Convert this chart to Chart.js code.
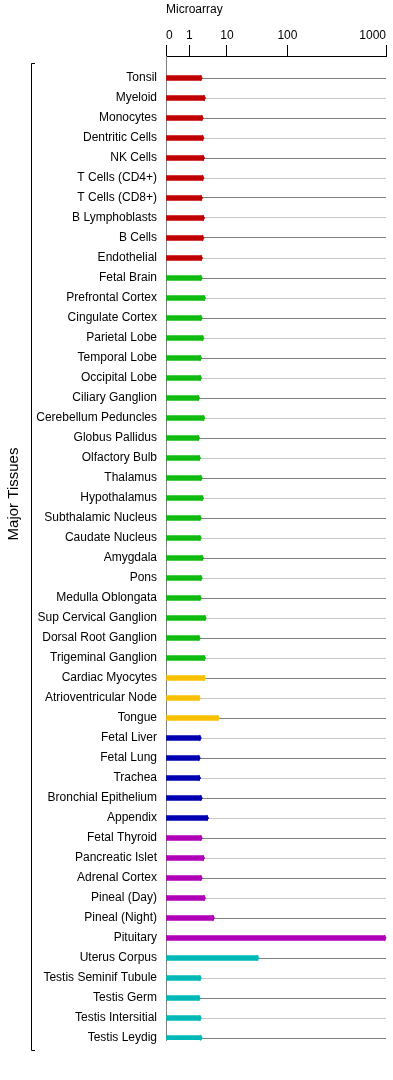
<!DOCTYPE html>
<html>
<head>
<meta charset="utf-8">
<script src="https://cdn.jsdelivr.net/npm/chart.js@4"></script>
<style>
html, body { margin: 0; padding: 0; background: #fff; }
#wrap { width: 393px; height: 1080px; }
</style>
</head>
<body>
<div id="wrap"><canvas id="chart" width="393" height="1080"></canvas></div>
<script>
// tissues top to bottom
var tissues = [
    'Tonsil', 'Myeloid', 'Monocytes', 'Dentritic Cells', 'NK Cells', 'T Cells (CD4+)', 'T Cells (CD8+)',
    'B Lymphoblasts', 'B Cells', 'Endothelial',
    'Fetal Brain', 'Prefrontal Cortex', 'Cingulate Cortex', 'Parietal Lobe', 'Temporal Lobe', 'Occipital Lobe',
    'Ciliary Ganglion', 'Cerebellum Peduncles', 'Globus Pallidus', 'Olfactory Bulb', 'Thalamus', 'Hypothalamus',
    'Subthalamic Nucleus', 'Caudate Nucleus', 'Amygdala', 'Pons', 'Medulla Oblongata', 'Sup Cervical Ganglion',
    'Dorsal Root Ganglion', 'Trigeminal Ganglion',
    'Cardiac Myocytes', 'Atrioventricular Node', 'Tongue',
    'Fetal Liver', 'Fetal Lung', 'Trachea', 'Bronchial Epithelium', 'Appendix',
    'Fetal Thyroid', 'Pancreatic Islet', 'Adrenal Cortex', 'Pineal (Day)', 'Pineal (Night)', 'Pituitary',
    'Uterus Corpus', 'Testis Seminif Tubule', 'Testis Germ', 'Testis Intersitial', 'Testis Leydig'
];

var values = [
    2.08, 2.55, 2.21, 2.31, 2.40, 2.31, 2.12, 2.40, 2.31, 2.12,
    2.08, 2.55, 2.08, 2.31, 2.00, 2.00, 1.77, 2.45, 1.77, 1.88,
    2.08, 2.26, 1.96, 1.96, 2.26, 2.08, 1.96, 2.66, 1.84, 2.55,
    2.55, 1.84, 5.9,
    1.96, 1.84, 1.88, 2.08, 3.06,
    2.08, 2.40, 2.08, 2.55, 4.4, 980,
    32.5, 1.96, 1.84, 1.96, 2.08
];

// which colour group each row belongs to
var groups = [
    0, 0, 0, 0, 0, 0, 0, 0, 0, 0,
    1, 1, 1, 1, 1, 1, 1, 1, 1, 1, 1, 1, 1, 1, 1, 1, 1, 1, 1, 1,
    2, 2, 2,
    3, 3, 3, 3, 3,
    4, 4, 4, 4, 4, 4,
    5, 5, 5, 5, 5
];
var groupColors = ['#c00000', '#10bb10', '#f8c000', '#0000b0', '#b000b8', '#00b8b8'];

// axis ticks and where they sit along the axis (0..1)
var tickValues = [0, 1, 10, 100, 1000];
var tickFrac = [0, 0.106, 0.277, 0.552, 1];

// map an expression value onto the 0..1 axis
function scaleValue(v) {
    if (v <= 1) return v * tickFrac[1];
    for (var i = 1; i < tickValues.length - 1; i++) {
        if (v <= tickValues[i + 1] || i === tickValues.length - 2) {
            var f = Math.log10(v / tickValues[i]) / Math.log10(tickValues[i + 1] / tickValues[i]);
            return tickFrac[i] + f * (tickFrac[i + 1] - tickFrac[i]);
        }
    }
}

var FONT = 'Liberation Sans, Arial, sans-serif';

var barTips = {
    id: 'barTips',
    afterDatasetsDraw: function (chart) {
        var ctx = chart.ctx;
        ctx.save();
        chart.getDatasetMeta(0).data.forEach(function (bar, i) {
            ctx.fillStyle = groupColors[groups[i]];
            ctx.beginPath();
            ctx.moveTo(bar.x - 1, bar.y - 3.5);
            ctx.lineTo(bar.x + 1.5, bar.y);
            ctx.lineTo(bar.x - 1, bar.y + 3.5);
            ctx.closePath();
            ctx.fill();
        });
        ctx.restore();
    }
};

var bracket = {
    id: 'bracket',
    afterDraw: function (chart) {
        var y = chart.scales.y, ctx = chart.ctx;
        var top = Math.round(y.getPixelForValue(-0.75)) + 0.5;
        var bottom = Math.round(y.getPixelForValue(48.6)) + 0.5;
        ctx.save();
        ctx.strokeStyle = '#000';
        ctx.lineWidth = 1;
        ctx.beginPath();
        ctx.moveTo(35, top);
        ctx.lineTo(31.5, top);
        ctx.lineTo(31.5, bottom);
        ctx.lineTo(35, bottom);
        ctx.stroke();

        ctx.translate(14, 494);
        ctx.rotate(-Math.PI / 2);
        ctx.fillStyle = '#000';
        ctx.font = '15px ' + FONT;
        ctx.textAlign = 'center';
        ctx.textBaseline = 'middle';
        ctx.fillText('Major Tissues', 0, 0);
        ctx.restore();
    }
};

var chart = new Chart(document.getElementById('chart').getContext('2d'), {
    type: 'bar',
    data: {
        datasets: [{
            data: values.map(function (v, i) { return { x: scaleValue(v), y: i }; }),
            backgroundColor: groups.map(function (g) { return groupColors[g]; }),
            barThickness: 5,
            borderWidth: 0
        }]
    },
    options: {
        indexAxis: 'y',
        responsive: false,
        animation: false,
        layout: { padding: { left: 0, right: 7, top: 0, bottom: 40 } },
        plugins: {
            legend: { display: false },
            tooltip: { enabled: false }
        },
        scales: {
            x: {
                type: 'linear',
                position: 'top',
                min: 0,
                max: 1,
                afterBuildTicks: function (scale) {
                    scale.ticks = tickFrac.map(function (f) { return { value: f }; });
                },
                afterFit: function (scale) { scale.height = 56; },
                ticks: {
                    autoSkip: false,
                    maxRotation: 0,
                    align: 'inner',
                    padding: 2,
                    color: '#000',
                    font: { family: FONT, size: 12 },
                    callback: function (v, i) { return String(tickValues[i]); }
                },
                grid: { drawOnChartArea: false, tickLength: 11, tickColor: '#000' },
                border: { color: '#000' },
                title: {
                    display: true,
                    text: 'Microarray',
                    align: 'start',
                    color: '#000',
                    font: { family: FONT, size: 12 },
                    padding: { top: 2, bottom: 0 }
                }
            },
            y: {
                type: 'linear',
                min: -1.1,
                max: 48.1,
                reverse: true,
                offset: false,
                afterBuildTicks: function (scale) {
                    scale.ticks = tissues.map(function (t, i) { return { value: i }; });
                },
                afterFit: function (scale) { scale.width = 166; },
                ticks: {
                    autoSkip: false,
                    padding: 9,
                    color: '#000',
                    font: { family: FONT, size: 12 },
                    callback: function (v) { return tissues[v]; }
                },
                grid: {
                    offset: false,
                    drawTicks: false,
                    color: function (ctx) {
                        var idx = ctx.tick ? ctx.tick.value : ctx.index;
                        return idx % 2 ? '#c8c8c8' : '#808080';
                    }
                },
                border: { color: '#808080' }
            }
        }
    },
    plugins: [barTips, bracket]
});
</script>
</body>
</html>
